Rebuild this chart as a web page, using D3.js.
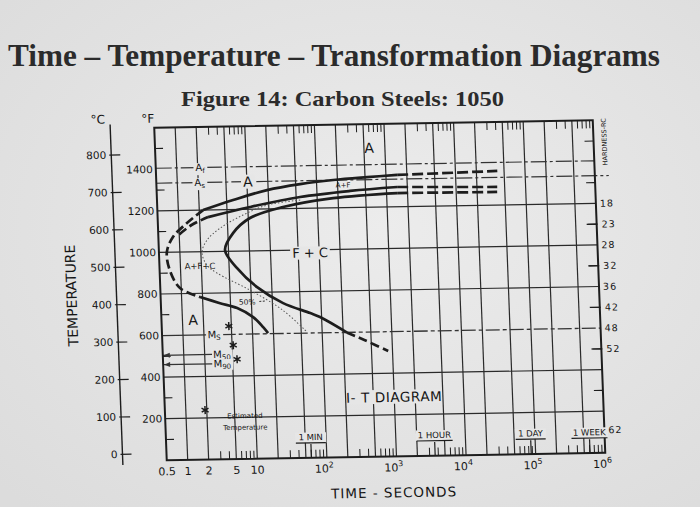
<!DOCTYPE html>
<html>
<head>
<meta charset="utf-8">
<script src="https://cdn.jsdelivr.net/npm/d3@7"></script>
<style>
  body { margin: 0; background: #e6e6e6; }
  text { font-family: "DejaVu Sans", sans-serif; fill: #151515; }
</style>
</head>
<body>
<div id="chart"></div>
<script>
// ---- values (time in seconds, temperature in deg F) ----
let gridTimes = [1, 2, 5, 10, 20, 50, 100, 200, 500, 1e3, 2e3, 5e3, 1e4, 2e4, 5e4, 1e5, 2e5, 5e5];
let gridTemps = [200, 400, 800, 1000, 1200];
let oddTemps = [100, 300, 500, 700, 900, 1100, 1300, 1500];
let fTicks = [200, 400, 600, 800, 1000, 1200, 1400];
let cTicks = [0, 100, 200, 300, 400, 500, 600, 700, 800];
let smallTimeTicks = [0.5, 1, 2, 5, 10];
let smallTimeLabels = ["0.5", "1", "2", "5", "10"];
let powerTicks = [1e2, 1e3, 1e4, 1e5, 1e6];
let powerExps = ["2", "3", "4", "5", "6"];
let minorMults = [3, 4, 6, 7, 8, 9];
let decades = [1, 10, 100, 1e3, 1e4, 1e5];

let markNames = ["1 MIN", "1 HOUR", "1 DAY", "1 WEEK"];
let markSeconds = [60, 3600, 86400, 604800];

let hardTemps = [1200, 1100, 1000, 900, 800, 700, 600, 500, 110];
let hardValues = ["18", "23", "28", "32", "36", "42", "48", "52", "62"];
let hardTicked = [23, 32, 42, 52];

let tempAf = 1405;
let tempAs = 1333;
let martTemps = [600, 505, 460];
let martSubs = ["S", "50", "90"];

// start of transformation (ferrite start at top, then the nose, then the lower branch)
let startTop = [[2.27, 1200], [6.2, 1246], [19.3, 1291], [58, 1317], [174, 1334], [537, 1345], [1451, 1353]];
let startTopExt = [[1451, 1353], [40000, 1364]];
let startNose = [[2.27, 1200], [1.31, 1139], [0.81, 1073], [0.65, 1001], [0.70, 914], [0.96, 827], [1.84, 782]];
let startLow = [[1.84, 782], [3.54, 751], [6.2, 726], [10.4, 681], [14.3, 632], [16.7, 603]];
// pearlite start
let pearlite = [[2.65, 1166], [10.8, 1211], [57, 1255], [300, 1280], [1429, 1295]];
let pearliteExt = [[1429, 1295], [39100, 1287]];
let pearliteNose = [[1.0, 1085], [1.5, 1128], [2.65, 1166]];
// end of transformation
let finish = [[1419, 1266], [170, 1247], [32, 1208], [10.6, 1158], [5.94, 1087], [4.46, 1006],
              [6.5, 918], [12.3, 825], [28.5, 746], [69, 696], [95, 676], [225, 600]];
let finishExt = [[1419, 1266], [38800, 1263]];
let finishLow = [[225, 600], [400, 562], [867, 507]];
// 50 % transformed
let half = [[57, 1240], [19, 1219], [8.45, 1173], [3.9, 1112], [2.5, 1056], [2.08, 998],
            [2.4, 935], [3.33, 896], [9.7, 811], [28, 712], [61, 604]];
// estimated temperature marks
let starTimes = [4.6, 5.2, 5.8, 1.89];
let starTemps = [640, 548, 480, 238];

// ---- layout ----
let svgWidth = 700, svgHeight = 507;
let W = 438.5, H = 332.5;
let bg = "#e6e6e6";
let ink = "#1d1d1d";

let svg = d3.select("#chart").append("svg")
  .attr("width", svgWidth).attr("height", svgHeight);

let defs = svg.append("defs");
let grad = defs.append("radialGradient").attr("id", "paper")
  .attr("cx", "55%").attr("cy", "45%").attr("r", "75%");
grad.append("stop").attr("offset", "0%").attr("stop-color", "#ececec");
grad.append("stop").attr("offset", "100%").attr("stop-color", "#dcdcdc");
svg.append("rect").attr("width", svgWidth).attr("height", svgHeight).attr("fill", "url(#paper)");

// titles (printed page, not skewed)
svg.append("text")
  .attr("x", 8).attr("y", 66)
  .attr("textLength", 652).attr("lengthAdjust", "spacingAndGlyphs")
  .style("font-family", "'Liberation Serif', serif").style("font-weight", "bold")
  .style("font-size", "31px").style("fill", "#2b2b2b")
  .text("Time \u2013 Temperature \u2013 Transformation Diagrams");
svg.append("text")
  .attr("x", 181).attr("y", 106)
  .attr("textLength", 323).attr("lengthAdjust", "spacingAndGlyphs")
  .style("font-family", "'Liberation Serif', serif").style("font-weight", "bold")
  .style("font-size", "22px").style("fill", "#2b2b2b")
  .text("Figure 14: Carbon Steels: 1050");

// chart group, skewed a little like the photographed page
let g = svg.append("g")
  .attr("transform", "matrix(1,-0.0171,0.0376,1,154.25,127.75)");

let x = d3.scaleLog().domain([0.5, 1e6]).range([0, W]);
let y = d3.scaleLinear().domain([0, 1600]).range([H, 0]);
let yC = c => y(c * 9 / 5 + 32);

// grid
g.selectAll(".vgrid").data(gridTimes).enter().append("line")
  .attr("x1", d => x(d)).attr("x2", d => x(d))
  .attr("y1", 0).attr("y2", H)
  .attr("stroke", "#2a2a2a").attr("stroke-width", 1.2);
g.selectAll(".hgrid").data(gridTemps).enter().append("line")
  .attr("x1", 0).attr("x2", W)
  .attr("y1", d => y(d)).attr("y2", d => y(d))
  .attr("stroke", "#2a2a2a").attr("stroke-width", 1.2);

// log minor ticks top and bottom
let minorTicks = decades.flatMap(d => minorMults.map(m => m * d));
g.selectAll(".mtb").data(minorTicks).enter().append("line")
  .attr("x1", d => x(d)).attr("x2", d => x(d))
  .attr("y1", H).attr("y2", H - 8)
  .attr("stroke", ink).attr("stroke-width", 1);
g.selectAll(".mtt").data(minorTicks).enter().append("line")
  .attr("x1", d => x(d)).attr("x2", d => x(d))
  .attr("y1", 0).attr("y2", 8)
  .attr("stroke", ink).attr("stroke-width", 1);

// odd-hundred ticks inside the frame
g.selectAll(".otl").data(oddTemps).enter().append("line")
  .attr("x1", 0).attr("x2", 8)
  .attr("y1", d => y(d)).attr("y2", d => y(d))
  .attr("stroke", ink).attr("stroke-width", 1.1);
g.selectAll(".otr").data(oddTemps.filter(d => d > 200)).enter().append("line")
  .attr("x1", W - 9).attr("x2", W)
  .attr("y1", d => y(d)).attr("y2", d => y(d))
  .attr("stroke", ink).attr("stroke-width", 1.1);

// Ms line (dashed across), solid lead-in at the left
g.append("line")
  .attr("x1", x(3.6)).attr("x2", W)
  .attr("y1", y(martTemps[0])).attr("y2", y(martTemps[0]))
  .attr("stroke", "#333").attr("stroke-width", 1.3)
  .attr("stroke-dasharray", "14,3,4,3");
g.selectAll(".mline").data(martTemps).enter().append("line")
  .attr("x1", 0).attr("x2", (d, i) => x(i === 0 ? 2.15 : 2.55))
  .attr("y1", d => y(d)).attr("y2", d => y(d))
  .attr("stroke", "#333").attr("stroke-width", 1.2);
g.selectAll(".marrow").data(martTemps.slice(1)).enter().append("path")
  .attr("d", d => `M1,${y(d)} l6,-2.5 l0,5 z`)
  .attr("fill", "#333");

// critical temperatures Af / As (dash-dot)
g.append("line")
  .attr("x1", 0).attr("x2", W)
  .attr("y1", y(tempAf)).attr("y2", y(tempAf))
  .attr("stroke", "#333").attr("stroke-width", 1.2)
  .attr("stroke-dasharray", "16,3,3,3");
g.append("line")
  .attr("x1", 0).attr("x2", W + 14)
  .attr("y1", y(tempAs)).attr("y2", y(tempAs))
  .attr("stroke", "#333").attr("stroke-width", 1.2)
  .attr("stroke-dasharray", "16,3,3,3");

// frame
g.append("rect")
  .attr("x", 0).attr("y", 0).attr("width", W).attr("height", H)
  .attr("fill", "none").attr("stroke", ink).attr("stroke-width", 2);

// curves
let line = d3.line()
  .x(d => x(d[0])).y(d => y(d[1]))
  .curve(d3.curveCatmullRom.alpha(0.5));
let solidCurves = [startTop, startLow, pearlite, finish];
let dashedCurves = [startNose, pearliteNose, finishLow];
let extCurves = [startTopExt, pearliteExt, finishExt];

g.selectAll(".solid").data(solidCurves).enter().append("path")
  .attr("d", line).attr("fill", "none")
  .attr("stroke", ink).attr("stroke-width", 2.7);
g.selectAll(".dashed").data(dashedCurves).enter().append("path")
  .attr("d", line).attr("fill", "none")
  .attr("stroke", ink).attr("stroke-width", 2.7)
  .attr("stroke-dasharray", "9,4");
g.selectAll(".ext").data(extCurves).enter().append("path")
  .attr("d", line).attr("fill", "none")
  .attr("stroke", ink).attr("stroke-width", 2.7)
  .attr("stroke-dasharray", "11,4");
g.append("path")
  .attr("d", line(half)).attr("fill", "none")
  .attr("stroke", "#555").attr("stroke-width", 1)
  .attr("stroke-dasharray", "1.5,2");

// labels; those sitting on lines get a paper-coloured box behind them
function label(tx, ty, str, size, masked) {
  let lg = g.append("g");
  let t = lg.append("text")
    .attr("x", tx).attr("y", ty)
    .attr("text-anchor", "middle")
    .attr("dy", "0.35em")
    .style("font-size", size + "px")
    .text(str);
  if (masked) {
    let b = t.node().getBBox();
    lg.insert("rect", "text")
      .attr("x", b.x - 2).attr("y", b.y + 1)
      .attr("width", b.width + 4).attr("height", b.height - 2)
      .attr("fill", bg);
  }
  return t;
}
function sub(t, s) {
  t.append("tspan").attr("dy", "0.3em").style("font-size", "7px").text(s);
}

let af = label(x(2.17), y(tempAf), "A", 10, false); sub(af, "f");
let as = label(x(2.1), y(tempAs), "A", 10, false); sub(as, "s");
// mask after subscripts were added
[af, as].forEach(t => {
  let b = t.node().getBBox();
  d3.select(t.node().parentNode).insert("rect", "text")
    .attr("x", b.x - 2).attr("y", b.y + 1)
    .attr("width", b.width + 4).attr("height", b.height - 1)
    .attr("fill", bg);
});
label(x(10.3), y(tempAs), "A", 14, true);
label(x(594), y(1485), "A", 14, false);
label(x(240), y(1309), "A+F", 7, false);
label(x(74), y(985), "F + C", 13, true);
label(x(1.91), y(931), "A+F+C", 8.5, false);
label(x(1.42), y(672), "A", 14, false);
label(x(8.7), y(754), "50%", 7.5, false);
g.append("path")
  .attr("d", `M${x(13)},${y(756)} L${x(16)},${y(758)}`)
  .attr("stroke", "#333").attr("stroke-width", 1).attr("stroke-dasharray", "2,1.5");

// martensite labels
g.selectAll(".mlab").data(martTemps).enter().append("g").each(function(d, i) {
  let t = d3.select(this).append("text")
    .attr("x", x(i === 0 ? 2.25 : 2.65)).attr("y", y(d))
    .attr("dy", "0.35em")
    .style("font-size", "10px")
    .text("M");
  t.append("tspan").attr("dy", "0.25em").style("font-size", "7px").text(martSubs[i]);
  let b = t.node().getBBox();
  d3.select(this).insert("rect", "text")
    .attr("x", b.x - 1).attr("y", b.y + 1)
    .attr("width", b.width + 3).attr("height", b.height - 2)
    .attr("fill", bg);
});

// asterisks for estimated temperatures
let star = d3.symbol(d3.symbolAsterisk, 45);
g.selectAll(".star").data(starTimes).enter().append("path")
  .attr("d", star)
  .attr("transform", (d, i) => `translate(${x(d)},${y(starTemps[i])})`)
  .attr("stroke", ink).attr("stroke-width", 1.5).attr("fill", "none");
g.append("text").attr("x", x(7)).attr("y", y(196)).attr("text-anchor", "middle")
  .style("font-size", "7px").text("Estimated");
g.append("text").attr("x", x(7)).attr("y", y(140)).attr("text-anchor", "middle")
  .style("font-size", "7px").text("Temperature");

// I-T diagram caption
label(x(1000), y(285), "I- T  DIAGRAM", 13.5, true).style("letter-spacing", "0.6px");

// time landmarks
let marks = g.selectAll(".mark").data(markSeconds).enter().append("g");
marks.append("line")
  .attr("x1", d => x(d)).attr("x2", d => x(d))
  .attr("y1", y(66)).attr("y2", H)
  .attr("stroke", ink).attr("stroke-width", 1.2);
marks.append("rect")
  .attr("x", (d, i) => x(d) - markNames[i].length * 3.1)
  .attr("width", (d, i) => markNames[i].length * 6.2)
  .attr("y", y(122)).attr("height", y(72) - y(122))
  .attr("fill", bg);
marks.append("text")
  .attr("x", d => x(d)).attr("y", y(85))
  .attr("text-anchor", "middle")
  .style("font-size", "8.5px")
  .text((d, i) => markNames[i]);
marks.append("line")
  .attr("x1", (d, i) => x(d) - markNames[i].length * 3)
  .attr("x2", (d, i) => x(d) + markNames[i].length * 3)
  .attr("y1", y(72)).attr("y2", y(72))
  .attr("stroke", ink).attr("stroke-width", 1.2);

// time axis labels
g.selectAll(".tl").data(smallTimeTicks).enter().append("text")
  .attr("x", d => x(d)).attr("y", H + 15)
  .attr("text-anchor", "middle").style("font-size", "11px")
  .text((d, i) => smallTimeLabels[i]);
let pw = g.selectAll(".pl").data(powerTicks).enter().append("text")
  .attr("x", d => x(d) - 3).attr("y", H + 15)
  .attr("text-anchor", "middle").style("font-size", "11px")
  .text("10");
pw.append("tspan").attr("dy", "-5").style("font-size", "8px").text((d, i) => powerExps[i]);
g.append("text")
  .attr("x", 226).attr("y", H + 41)
  .attr("text-anchor", "middle").style("font-size", "13.5px")
  .style("letter-spacing", "1px")
  .text("TIME  -  SECONDS");

// deg F labels
g.selectAll(".fl").data(fTicks).enter().append("text")
  .attr("x", -3).attr("y", d => y(d)).attr("dy", "0.35em")
  .attr("text-anchor", "end").style("font-size", "10.5px")
  .text(d => d);
g.append("text").attr("x", -6).attr("y", -5).attr("text-anchor", "middle")
  .style("font-size", "12px").text("\u00b0F");

// deg C axis
g.append("line")
  .attr("x1", -44).attr("x2", -44).attr("y1", -4).attr("y2", H + 4)
  .attr("stroke", ink).attr("stroke-width", 1.4);
g.selectAll(".ct").data(cTicks).enter().append("line")
  .attr("x1", -46).attr("x2", -35)
  .attr("y1", d => yC(d)).attr("y2", d => yC(d))
  .attr("stroke", ink).attr("stroke-width", 1.2);
g.selectAll(".cl").data(cTicks).enter().append("text")
  .attr("x", -49).attr("y", d => yC(d)).attr("dy", "0.35em")
  .attr("text-anchor", "end").style("font-size", "10.5px")
  .text(d => d);
g.append("text").attr("x", -56).attr("y", -5).attr("text-anchor", "middle")
  .style("font-size", "12px").text("\u00b0C");
g.append("text")
  .attr("transform", `translate(-84,${y(800)}) rotate(-90)`)
  .attr("text-anchor", "middle").style("font-size", "14px")
  .text("TEMPERATURE");

// hardness scale on the right
g.selectAll(".ht").data(hardTemps.filter((d, i) => hardTicked.includes(+hardValues[i]))).enter().append("line")
  .attr("x1", W - 10).attr("x2", W + 1)
  .attr("y1", d => y(d)).attr("y2", d => y(d))
  .attr("stroke", ink).attr("stroke-width", 1.2);
g.selectAll(".hl").data(hardTemps).enter().append("text")
  .attr("x", (d, i) => W + (hardTicked.includes(+hardValues[i]) ? 5 : 4))
  .attr("y", d => y(d)).attr("dy", "0.35em")
  .style("font-size", "9.5px").style("letter-spacing", "1px")
  .text((d, i) => hardValues[i]);
g.append("text")
  .attr("transform", `translate(${W + 13},${y(1495)}) rotate(-90)`)
  .attr("text-anchor", "middle").style("font-size", "6.5px")
  .text("HARDNESS-RC");
</script>
</body>
</html>
